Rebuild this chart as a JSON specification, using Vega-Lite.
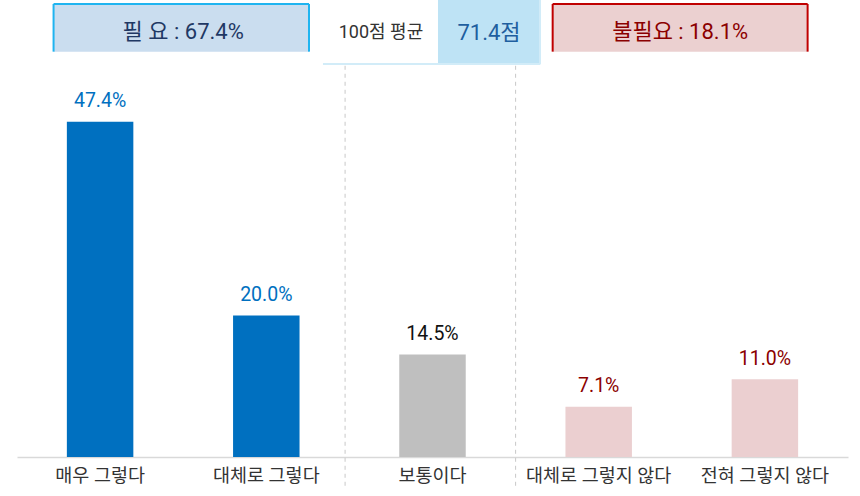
{
  "$schema": "https://vega.github.io/schema/vega-lite/v6.json",
  "width": 831,
  "height": 457,
  "autosize": {"type": "none"},
  "padding": {"left": 17, "top": 0, "right": 12, "bottom": 39},
  "background": "white",
  "config": {
    "view": {"stroke": null},
    "font": "Roboto, Noto Sans CJK KR",
    "text": {"font": "Roboto, Noto Sans CJK KR"}
  },
  "datasets": {
    "bars": [
      {"cat": "매우 그렇다", "value": 47.4, "label": "47.4%", "group": "need"},
      {"cat": "대체로 그렇다", "value": 20.0, "label": "20.0%", "group": "need"},
      {"cat": "보통이다", "value": 14.5, "label": "14.5%", "group": "neutral"},
      {"cat": "대체로 그렇지 않다", "value": 7.1, "label": "7.1%", "group": "noneed"},
      {"cat": "전혀 그렇지 않다", "value": 11.0, "label": "11.0%", "group": "noneed"}
    ],
    "dividers": [
      {"x": 1.974, "top": 55.3, "bottom": -4.4},
      {"x": 3.0, "top": 55.3, "bottom": -4.4}
    ],
    "boxes": [
      {"kind": "need", "x1": 0.22, "x2": 1.757, "y1": 57.3, "y2": 64.04},
      {"kind": "avgLabel", "x1": 1.841, "x2": 2.533, "y1": 55.5, "y2": 64.6},
      {"kind": "avgValue", "x1": 2.533, "x2": 3.147, "y1": 55.5, "y2": 64.6},
      {"kind": "noneed", "x1": 3.223, "x2": 4.757, "y1": 57.3, "y2": 64.04}
    ],
    "borders": [
      {"kind": "need", "x1": 0.22, "x2": 1.757, "y1": 64.04, "y2": 64.04},
      {"kind": "need", "x1": 0.22, "x2": 0.22, "y1": 57.3, "y2": 64.04},
      {"kind": "need", "x1": 1.757, "x2": 1.757, "y1": 57.3, "y2": 64.04},
      {"kind": "noneed", "x1": 3.223, "x2": 4.757, "y1": 64.04, "y2": 64.04},
      {"kind": "noneed", "x1": 3.223, "x2": 3.223, "y1": 57.3, "y2": 64.04},
      {"kind": "noneed", "x1": 4.757, "x2": 4.757, "y1": 57.3, "y2": 64.04},
      {"kind": "avg", "x1": 1.841, "x2": 3.147, "y1": 55.55, "y2": 55.55},
      {"kind": "avg", "x1": 3.147, "x2": 3.147, "y1": 55.5, "y2": 64.6}
    ],
    "headers": [
      {"kind": "need", "x": 1.0, "y": 60.1, "text": "필 요 : 67.4%"},
      {"kind": "avgLabel", "x": 2.19, "y": 60.0, "text": "100점 평균"},
      {"kind": "avgValue", "x": 2.84, "y": 60.0, "text": "71.4점"},
      {"kind": "noneed", "x": 3.99, "y": 60.1, "text": "불필요 : 18.1%"}
    ]
  },
  "resolve": {"scale": {"x": "independent", "color": "independent"}},
  "layer": [
    {
      "data": {"name": "dividers"},
      "mark": {"type": "rule", "color": "#C8C8C8", "strokeDash": [4, 4], "strokeWidth": 1},
      "encoding": {
        "x": {"field": "x", "type": "quantitative", "scale": {"domain": [0, 5], "nice": false, "zero": false}, "axis": null},
        "y": {"field": "top", "type": "quantitative", "scale": {"domain": [0, 64.6], "nice": false}, "axis": null},
        "y2": {"field": "bottom"}
      }
    },
    {
      "data": {"name": "bars"},
      "mark": {"type": "bar"},
      "encoding": {
        "x": {
          "field": "cat", "type": "nominal", "sort": null,
          "scale": {"paddingInner": 0.6, "paddingOuter": 0.3},
          "axis": {
            "title": null, "labelAngle": 0, "ticks": false,
            "domainColor": "#D9D9D9", "domainWidth": 1.5,
            "labelFontSize": 18.5, "labelColor": "#333333", "labelPadding": 9,
            "labelFont": "Roboto, Noto Sans CJK KR"
          }
        },
        "y": {"field": "value", "type": "quantitative", "scale": {"domain": [0, 64.6], "nice": false}, "axis": null},
        "color": {
          "field": "group", "type": "nominal", "legend": null,
          "scale": {"domain": ["need", "neutral", "noneed"], "range": ["#0070C0", "#BFBFBF", "#EBCFD0"]}
        }
      }
    },
    {
      "data": {"name": "bars"},
      "mark": {"type": "text", "baseline": "alphabetic", "dy": -14.5, "fontSize": 19.5},
      "encoding": {
        "x": {"field": "cat", "type": "nominal", "sort": null, "scale": {"paddingInner": 0.6, "paddingOuter": 0.3}, "axis": null},
        "y": {"field": "value", "type": "quantitative", "scale": {"domain": [0, 64.6], "nice": false}, "axis": null},
        "text": {"field": "label"},
        "color": {
          "field": "group", "type": "nominal", "legend": null,
          "scale": {"domain": ["need", "neutral", "noneed"], "range": ["#0070C0", "#111111", "#8B0000"]}
        }
      }
    },
    {
      "data": {"name": "boxes"},
      "mark": {"type": "rect"},
      "encoding": {
        "x": {"field": "x1", "type": "quantitative", "scale": {"domain": [0, 5], "nice": false, "zero": false}, "axis": null},
        "x2": {"field": "x2"},
        "y": {"field": "y1", "type": "quantitative", "scale": {"domain": [0, 64.6], "nice": false}, "axis": null},
        "y2": {"field": "y2"},
        "color": {
          "field": "kind", "type": "nominal", "legend": null,
          "scale": {"domain": ["need", "avgLabel", "avgValue", "noneed"], "range": ["#CADDEF", "#FFFFFF", "#BEE3F5", "#EBD0D0"]}
        }
      }
    },
    {
      "data": {"name": "borders"},
      "mark": {"type": "rule", "strokeWidth": 2},
      "encoding": {
        "x": {"field": "x1", "type": "quantitative", "scale": {"domain": [0, 5], "nice": false, "zero": false}, "axis": null},
        "x2": {"field": "x2"},
        "y": {"field": "y1", "type": "quantitative", "scale": {"domain": [0, 64.6], "nice": false}, "axis": null},
        "y2": {"field": "y2"},
        "color": {
          "field": "kind", "type": "nominal", "legend": null,
          "scale": {"domain": ["need", "noneed", "avg"], "range": ["#1FB4F0", "#C00000", "#D2ECF8"]}
        }
      }
    },
    {
      "data": {"name": "headers"},
      "transform": [{"filter": "datum.kind === 'need'"}],
      "mark": {"type": "text", "baseline": "middle", "align": "center", "fontSize": 22, "color": "#1F3864"},
      "encoding": {
        "x": {"field": "x", "type": "quantitative", "scale": {"domain": [0, 5], "nice": false, "zero": false}, "axis": null},
        "y": {"field": "y", "type": "quantitative", "scale": {"domain": [0, 64.6], "nice": false}, "axis": null},
        "text": {"field": "text"}
      }
    },
    {
      "data": {"name": "headers"},
      "transform": [{"filter": "datum.kind === 'avgLabel'"}],
      "mark": {"type": "text", "baseline": "middle", "align": "center", "fontSize": 18, "color": "#333333"},
      "encoding": {
        "x": {"field": "x", "type": "quantitative", "scale": {"domain": [0, 5], "nice": false, "zero": false}, "axis": null},
        "y": {"field": "y", "type": "quantitative", "scale": {"domain": [0, 64.6], "nice": false}, "axis": null},
        "text": {"field": "text"}
      }
    },
    {
      "data": {"name": "headers"},
      "transform": [{"filter": "datum.kind === 'avgValue'"}],
      "mark": {"type": "text", "baseline": "middle", "align": "center", "fontSize": 22, "color": "#1F5F9F"},
      "encoding": {
        "x": {"field": "x", "type": "quantitative", "scale": {"domain": [0, 5], "nice": false, "zero": false}, "axis": null},
        "y": {"field": "y", "type": "quantitative", "scale": {"domain": [0, 64.6], "nice": false}, "axis": null},
        "text": {"field": "text"}
      }
    },
    {
      "data": {"name": "headers"},
      "transform": [{"filter": "datum.kind === 'noneed'"}],
      "mark": {"type": "text", "baseline": "middle", "align": "center", "fontSize": 22, "color": "#8B0000"},
      "encoding": {
        "x": {"field": "x", "type": "quantitative", "scale": {"domain": [0, 5], "nice": false, "zero": false}, "axis": null},
        "y": {"field": "y", "type": "quantitative", "scale": {"domain": [0, 64.6], "nice": false}, "axis": null},
        "text": {"field": "text"}
      }
    }
  ]
}
